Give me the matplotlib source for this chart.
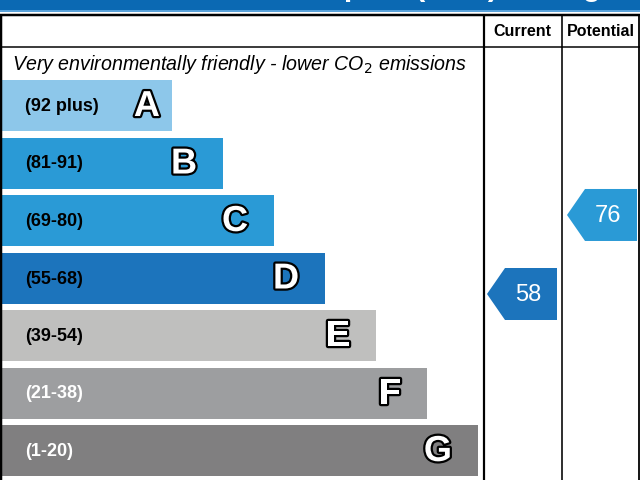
import matplotlib
matplotlib.use("Agg")
import matplotlib.pyplot as plt
from matplotlib.patches import Polygon, Rectangle
import matplotlib.patheffects as pe

plt.rcParams['font.family'] = ['Liberation Sans', 'DejaVu Sans']

# ---- data ----
title = "Environmental Impact (CO2) Rating"
top_note = "Very environmentally friendly - lower CO$_2$ emissions"
bands = ["A", "B", "C", "D", "E", "F", "G"]
ranges = ["(92 plus)", "(81-91)", "(69-80)", "(55-68)", "(39-54)", "(21-38)", "(1-20)"]
band_colors = ["#8dc7ea", "#2a9ad6", "#2a9ad6", "#1c74bc", "#bfbfbe", "#9d9ea0", "#807f80"]
range_text_colors = ["black", "black", "black", "black", "black", "white", "white"]
current_value = 58
potential_value = 76
current_color = "#1c74bc"
potential_color = "#2a9ad6"
col_headers = ["Current", "Potential"]

# ---- layout (pixel coordinates) ----
W, H = 640, 480
fig = plt.figure(figsize=(6.4, 4.8), dpi=100)
ax = fig.add_axes([0, 0, 1, 1])
ax.set_xlim(0, W)
ax.set_ylim(H, 0)
ax.axis('off')

# header band (title mostly cropped above the image, as in the reference)
ax.add_patch(Rectangle((0, 0), W, 10, color="#0b69b3", lw=0))
ax.add_patch(Rectangle((0, 10), W, 1.5, color="#5aa2da", lw=0))
ax.text(345, -5.2, title, color="white", fontsize=22, fontweight="bold",
        ha="center", va="baseline", clip_on=False)

# table lines
k = 0.72
ax.plot([0, W], [14.5, 14.5], color="black", lw=2.5 * k, solid_capstyle="butt")
ax.plot([0, W], [47, 47], color="black", lw=1.5 * k)
for x, w in [(1.2, 2.5), (484, 2.2), (562, 1.6), (638.5, 1.8)]:
    ax.plot([x, x], [14, H], color="black", lw=w * k, solid_capstyle="butt")

ax.text(522, 32, col_headers[0], fontsize=11.5, fontweight="bold", ha="center", va="center")
ax.text(601, 32, col_headers[1], fontsize=11.5, fontweight="bold", ha="center", va="center")

ax.text(12, 65, top_note, fontsize=14.1, fontstyle="italic", ha="left", va="center")

# bars
row_top0, pitch, bar_h = 80, 57.5, 51
left = 2
base_w, step_w = 170, 51
centers = [row_top0 + pitch * i + bar_h / 2 for i in range(len(bands))]
widths = [base_w + step_w * i for i in range(len(bands))]
ax.barh(centers, widths, height=bar_h, left=left, color=band_colors, linewidth=0)

for i, (b, r) in enumerate(zip(bands, ranges)):
    ax.text(25, centers[i] + 1, r, fontsize=13, fontweight="bold",
            color=range_text_colors[i], ha="left", va="center")
    off = 12 if i == 0 else 26
    t = ax.text(left + widths[i] - off, centers[i] + 1, b, fontsize=26, fontweight="bold",
                color="white", ha="right", va="center")
    t.set_path_effects([pe.withStroke(linewidth=3.2, foreground="black")])

# arrows
def value_to_y(v):
    return 294 + (58 - v) * 4.39

def arrow(x_tip, x_right, v, color):
    cy = value_to_y(v)
    h = 26
    pts = [(x_tip, cy), (x_tip + 18, cy - h), (x_right, cy - h),
           (x_right, cy + h), (x_tip + 18, cy + h)]
    ax.add_patch(Polygon(pts, closed=True, color=color, lw=0))
    ax.text((x_tip + 12 + x_right) / 2, cy + 1, str(v), color="white", fontsize=17,
            ha="center", va="center")

arrow(487, 557, current_value, current_color)
arrow(567, 637, potential_value, potential_color)

fig.savefig("out.png", dpi=100)
